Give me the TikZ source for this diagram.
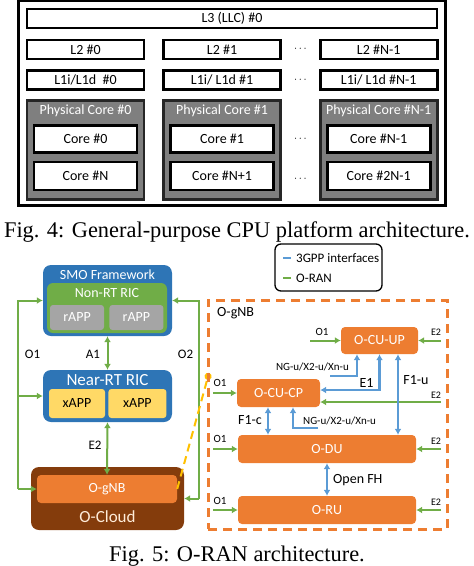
\documentclass[tikz,border=0pt]{standalone}
\usepackage{fontspec}
\setmainfont{Liberation Serif}
\newfontfamily\diagfont{Carlito}
\usetikzlibrary{arrows.meta,positioning,calc}

\definecolor{smoblue}{HTML}{2E75B6}
\definecolor{ricgreen}{HTML}{70AD47}
\definecolor{appgray}{HTML}{A5A5A5}
\definecolor{xappyellow}{HTML}{FFD966}
\definecolor{cloudbrown}{HTML}{843C0C}
\definecolor{ranorange}{HTML}{ED7D31}
\definecolor{pinyellow}{HTML}{FFC000}
\definecolor{ifblue}{HTML}{5B9BD5}
\definecolor{phygray}{HTML}{7F7F7F}

\newcommand{\fsz}[1]{\fontsize{#1}{#1}\selectfont}

\begin{document}
\begin{tikzpicture}[x=1pt, y=-1pt,
    every node/.style={font=\diagfont\fsz{14}, inner sep=0pt},
    cache/.style={rectangle, draw=black, line width=2.6pt, fill=white, minimum width=117pt, minimum height=19pt},
    physcore/.style={rectangle, draw=black!85, line width=2.6pt, fill=phygray, minimum width=117pt, minimum height=99pt},
    corebox/.style={rectangle, draw=black, line width=2.6pt, fill=white, minimum width=103pt, minimum height=27pt},
    smobox/.style={rectangle, rounded corners=8pt, fill=smoblue, minimum width=129pt},
    appbox/.style={rectangle, rounded corners=3pt, minimum height=25pt},
    ranunit/.style={rectangle, rounded corners=4pt, fill=ranorange, text=white, minimum height=27pt},
    gline/.style={draw=ricgreen, line width=2pt},
    bline/.style={draw=ifblue, line width=2.5pt},
    small/.style={font=\diagfont\fsz{11}},
    tiny/.style={font=\diagfont\fsz{10}},
    caption/.style={font=\rmfamily\fsz{22.4}, anchor=base},
    >={Latex[length=6pt,width=7pt]}
]
\useasboundingbox (0,0) rectangle (474,566);

% Fig. 4: CPU platform
\node[rectangle, draw=black, line width=2.6pt, minimum width=427pt, minimum height=205pt] (cpu) at (232,103) {};
\node[cache, minimum width=410pt] (l3) at (232,18.5) {L3 (LLC) \#0};

\node[cache] (l2a) at (85.5,49.5) {L2 \#0};
\node[cache, right=17pt of l2a] (l2b) {L2 \#1};
\node[cache, right=37pt of l2b] (l2n) {L2 \#N-1};

\node[cache, below=9pt of l2a] (l1a) {L1i/L1d~~\#0};
\node[cache, below=9pt of l2b] (l1b) {L1i/ L1d \#1};
\node[cache, below=9pt of l2n] (l1n) {L1i/ L1d \#N-1};

\node[physcore, below=8pt of l1a] (pca) {};
\node[physcore, below=8pt of l1b] (pcb) {};
\node[physcore, below=8pt of l1n] (pcn) {};
\node[text=white] (pcalab) at ([yshift=-12pt]pca.north) {Physical Core \#0};
\node[text=white] (pcblab) at ([yshift=-12pt]pcb.north) {Physical Core \#1};
\node[text=white] (pcnlab) at ([yshift=-12pt]pcn.north) {Physical Core \#N-1};

\node[corebox, below=25pt of pca.north] (corea) {Core \#0};
\node[corebox, below=7pt of corea, minimum height=28pt] (coreaa) {Core \#N};
\node[corebox, below=25pt of pcb.north] (coreb) {Core \#1};
\node[corebox, below=7pt of coreb, minimum height=28pt] (corebb) {Core \#N+1};
\node[corebox, below=25pt of pcn.north] (coren) {Core \#N-1};
\node[corebox, below=7pt of coren, minimum height=28pt] (corenn) {Core \#2N-1};

\node (dots1) at ($(l2b.east)!0.5!(l2n.west)$) {\fsz{11}$\cdots$};
\node (dots2) at ($(l1b.east)!0.5!(l1n.west)$) {\fsz{11}$\cdots$};
\node (dots3) at ($(coreb.east)!0.5!(coren.west)$) {\fsz{11}$\cdots$};
\node (dots4) at ($(corebb.east)!0.5!(corenn.west)+(0,3)$) {\fsz{11}$\cdots$};

\node[caption] (cap4) at (237,237) {Fig. 4: General-purpose CPU platform architecture.};

% Fig. 5: O-RAN
\node[draw=black, line width=1.3pt, rounded corners=6pt, minimum width=107pt, minimum height=47pt] (legend) at (328.5,267.5) {};
\coordinate (legb) at (283,258);
\coordinate (legg) at (283,278);
\draw[bline] (legb) -- ++(8,0);
\draw[gline, line width=2.5pt] (legg) -- ++(8,0);
\node[anchor=west, font=\diagfont\fsz{13}] (legbt) at (296,258) {3GPP interfaces};
\node[anchor=west, font=\diagfont\fsz{13}] (leggt) at (296,278) {O-RAN};

\node[smobox, minimum height=71pt] (smo) at (107.5,300.5) {};
\node[text=white] (smolab) at ([yshift=-10pt]smo.north) {SMO Framework};
\node[rectangle, rounded corners=6pt, fill=ricgreen, minimum width=120pt, minimum height=50pt] (nonrt) at (107,308) {};
\node[text=white] (nonrtlab) at ([yshift=-10pt]nonrt.north) {Non-RT RIC};
\node[appbox, fill=appgray, text=white, minimum width=54pt] (rappa) at (77,317.5) {rAPP};
\node[appbox, fill=appgray, text=white, minimum width=54pt, right=5pt of rappa] (rappb) {rAPP};

\node[smobox, minimum height=52pt] (near) at (107.5,396) {};
\node[text=white, font=\diagfont\fsz{17}] (nearlab) at ([yshift=-10pt]near.north) {Near-RT RIC};
\node[appbox, fill=xappyellow, minimum width=56pt, minimum height=29pt] (xappa) at (77,403.5) {xAPP};
\node[appbox, fill=xappyellow, minimum width=58pt, minimum height=29pt, right=3pt of xappa] (xappb) {xAPP};

\node[rectangle, rounded corners=8pt, fill=cloudbrown, minimum width=153pt, minimum height=63pt] (ocloud) at (107.5,498.5) {};
\node[text=white!85!orange, font=\diagfont\fsz{17}] (ocloudlab) at ([yshift=14pt]ocloud.south) {O-Cloud};
\node[ranunit, minimum width=140pt, minimum height=28pt] (ognb) at (107,489) {O-gNB};

% O1 / O2 / A1 / E2
\coordinate (o1top) at (18,300.5);
\coordinate (o2top) at (199,300.5);
\draw[gline, ->] (o1top |- ognb.west) -- (o1top) -- (smo.west);
\draw[gline, ->] (o1top |- near.west) -- (near.west);
\draw[gline, ->] (o1top |- ognb.west) -- (ognb.west);
\draw[gline, ->] (o2top |- ocloud.east) -- (o2top) -- (smo.east);
\draw[gline, ->] (o2top |- ocloud.east) -- (ocloud.east);
\draw[gline, <->] (smo.south) -- (near.north);
\draw[gline, <->] (near.south) -- (ognb.north);
\node[font=\diagfont\fsz{13}] (o1lab) at (32.5,354) {O1};
\node[font=\diagfont\fsz{13}] (a1lab) at (93,354) {A1};
\node[font=\diagfont\fsz{13}] (o2lab) at (185.5,354) {O2};
\node[font=\diagfont\fsz{13}] (e2lab) at (95,445) {E2};

% O-gNB detail
\coordinate (pin) at (209,373);
\draw[draw=pinyellow, line width=2pt, dash pattern=on 8pt off 5pt, -{Circle[length=7pt]}] (ognb.east) -- (pin);
\node[draw=ranorange, line width=3pt, dash pattern=on 9pt off 6pt, minimum width=239pt, minimum height=229pt] (ran) at (327.5,414.5) {};
\node[anchor=west] (ranlab) at (217,313) {O-gNB};

\node[ranunit, minimum width=77pt] (cuup) at (379.5,340.5) {O-CU-UP};
\node[ranunit, minimum width=83pt, minimum height=28pt] (cucp) at (278.5,393) {O-CU-CP};
\node[ranunit, minimum width=178pt, minimum height=28pt] (du) at (327,449) {O-DU};
\node[ranunit, minimum width=178pt, minimum height=28pt] (ru) at (327,510) {O-RU};

\coordinate (inl) at (213,0);
\coordinate (inr) at (441,0);
\coordinate (o1up) at (310,0);
\coordinate (cpe2) at ([yshift=-9pt]cucp.east);
\draw[gline, ->] (o1up |- cuup.west) -- (cuup.west);
\draw[gline, ->] (inl |- cucp.west) -- (cucp.west);
\draw[gline, ->] (inl |- du.west) -- (du.west);
\draw[gline, ->] (inl |- ru.west) -- (ru.west);
\draw[gline, ->] (inr |- cuup.east) -- (cuup.east);
\draw[gline, ->] (inr |- cpe2) -- (cpe2);
\draw[gline, ->] (inr |- du.east) -- (du.east);
\draw[gline, ->] (inr |- ru.east) -- (ru.east);

\node[small] (o1cp) at (220,383) {O1};
\node[small] (o1du) at (220,439) {O1};
\node[small] (o1ru) at (220,501) {O1};
\node[small] (o1uplab) at (322,332) {O1};
\node[tiny] (e2up) at (436,332) {E2};
\node[tiny] (e2cp) at (436,395) {E2};
\node[tiny] (e2du) at (436,441) {E2};
\node[tiny] (e2ru) at (436,502) {E2};

\coordinate (ngtop) at (330,376);
\coordinate (ngbot) at (318,428);
\coordinate (cpe1) at ([yshift=3pt]cucp.east);
\coordinate (upf1) at ([xshift=18.5pt]cuup.south);
\coordinate (cpf1) at ([xshift=-10.5pt]cucp.south);
\draw[bline, ->] (ngtop) -| ([xshift=-22.5pt]cuup.south);
\draw[bline, <->] (cuup.south) |- (cpe1);
\draw[bline, <->] (upf1) -- (upf1 |- du.north);
\draw[bline, <->] (cpf1) -- (cpf1 |- du.north);
\draw[bline, ->] (ngbot) -| ([xshift=14.5pt]cucp.south);
\draw[bline, <->] (du.south) -- (ru.north);

\node[small, anchor=east] (ngtoplab) at (349,367) {NG-u/X2-u/Xn-u};
\node[small, anchor=west] (ngbotlab) at (303,421) {NG-u/X2-u/Xn-u};
\node (e1lab) at (366.5,383) {E1};
\node (f1ulab) at (416,380) {F1-u};
\node (f1clab) at (250,420) {F1-c};
\node[anchor=west] (fhlab) at (333,480) {Open FH};

\node[caption] (cap5) at (237,561) {Fig. 5: O-RAN architecture.};

\end{tikzpicture}
\end{document}
